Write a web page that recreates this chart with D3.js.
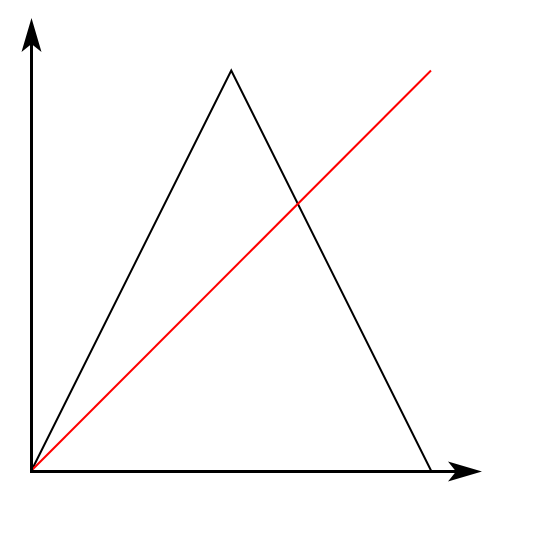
<!DOCTYPE html>
<html><head><meta charset="utf-8">
<script src="https://cdn.jsdelivr.net/npm/d3@7"></script>
<style>body{margin:0;background:#fff}svg{display:block}</style>
</head><body>
<script>
const triangleX = [0, 1, 2];
const triangleY = [0, 1, 0];
const redX = [0, 2];
const redY = [0, 1];

const W = 544, H = 536;
const svg = d3.select("body").append("svg").attr("width", W).attr("height", H);
const x = d3.scaleLinear().domain([0, 2]).range([31.5, 431]);
const y = d3.scaleLinear().domain([0, 1]).range([470.5, 70.5]);

const line = d3.line().x(d => x(d[0])).y(d => y(d[1]));
svg.append("path").datum(triangleX.map((v, i) => [v, triangleY[i]]))
  .attr("d", line).attr("fill", "none").attr("stroke", "#000").attr("stroke-width", 2);
svg.append("path").datum(redX.map((v, i) => [v, redY[i]]))
  .attr("d", line).attr("fill", "none").attr("stroke", "#ff0000").attr("stroke-width", 2);

// axes
const ox = 31.5, oy = 471.5;
svg.append("line").attr("x1", ox).attr("y1", oy + 1.5).attr("x2", ox).attr("y2", 40)
  .attr("stroke", "#000").attr("stroke-width", 3);
svg.append("line").attr("x1", ox - 1.5).attr("y1", oy).attr("x2", 460).attr("y2", oy)
  .attr("stroke", "#000").attr("stroke-width", 3);
// arrowheads
svg.append("path").attr("d", `M${ox},18 L${ox + 10},52 L${ox},44 L${ox - 10},52 Z`).attr("fill", "#000");
svg.append("path").attr("d", `M482,${oy} L448,${oy - 10} L456,${oy} L448,${oy + 10} Z`).attr("fill", "#000");
</script>
</body></html>
